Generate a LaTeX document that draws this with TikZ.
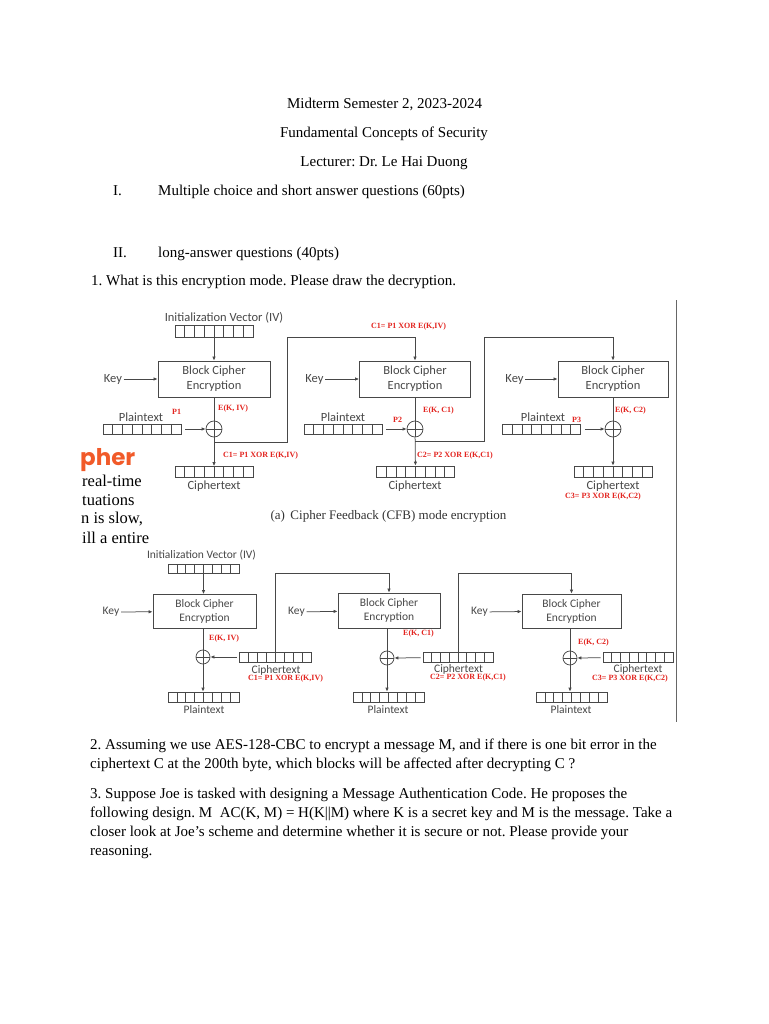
\documentclass[tikz,border=0pt]{standalone}
\usepackage{fontspec}
\setmainfont{Liberation Serif}
\newfontfamily\diagfont{Carlito}
\newfontfamily\popfont{Poppins}
\usetikzlibrary{arrows.meta,calc}
\definecolor{dg}{HTML}{484848}
\definecolor{lred}{HTML}{E3241F}
\definecolor{orng}{HTML}{F15A29}
\frenchspacing
\tikzset{
  txt/.style={font=\fontsize{15}{17}\selectfont, inner sep=0, anchor=west, yshift=-2pt},
  numt/.style={font=\fontsize{15}{17}\selectfont, inner sep=0, anchor=base west},
  ctxt/.style={font=\fontsize{15}{17}\selectfont, inner sep=0, yshift=-2pt},
  side/.style={font=\fontsize{16.5}{18}\selectfont, inner sep=0, anchor=west},
  lbl/.style={font=\diagfont\fontsize{12.5}{14}\selectfont, text=dg, inner sep=1.5pt},
  slbl/.style={font=\diagfont\fontsize{11.5}{13}\selectfont, text=dg, inner sep=1.5pt},
  blk/.style={draw=dg, line width=0.8pt, minimum width=112, minimum height=36, align=center,
    font=\diagfont\fontsize{12.5}{15}\selectfont, text=dg, inner sep=0},
  sblk/.style={blk, minimum width=103, minimum height=34, font=\diagfont\fontsize{11.5}{14}\selectfont},
  reg/.style={draw=dg, line width=0.75pt, minimum width=78, minimum height=11, inner sep=0,
    path picture={\foreach \i in {1,...,7}{\draw[dg, line width=0.75pt]
      ($(path picture bounding box.south west)!\i/8!(path picture bounding box.south east)$) --
      ($(path picture bounding box.north west)!\i/8!(path picture bounding box.north east)$);}}},
  xor/.style={circle, draw=dg, line width=0.75pt, minimum size=16, inner sep=0,
    path picture={\draw[dg, line width=0.75pt] (path picture bounding box.north) -- (path picture bounding box.south);
      \draw[dg, line width=0.75pt] (path picture bounding box.west) -- (path picture bounding box.east);}},
  redl/.style={font=\bfseries\fontsize{8}{9}\selectfont, text=lred, inner sep=0, anchor=west},
  arr/.style={draw=dg, line width=0.75pt, -{Latex[length=4pt,width=3.5pt]}},
  ln/.style={draw=dg, line width=0.75pt}
}
\begin{document}
\begin{tikzpicture}[x=1pt,y=-1pt]
\useasboundingbox[fill=white] (0,0) rectangle (768,1024);

% ---------- header text ----------
\node[ctxt] (h1) at (384.5,102) {Midterm Semester 2, 2023-2024};
\node[ctxt] (h2) at (384,132) {Fundamental Concepts of Security};
\node[ctxt] (h3) at (384,161) {Lecturer: Dr. Le Hai Duong};
\node[txt] (s1) at (158,190) {Multiple choice and short answer questions (60pts)};
\node[numt] (s1n) at ($(s1.base west)+(-45,0)$) {I.};
\node[txt] (s2) at (158,252) {long-answer questions (40pts)};
\node[numt] (s2n) at ($(s2.base west)+(-45,0)$) {II.};
\node[txt] (q1) at (91,280) {1. What is this encryption mode. Please draw the decryption.};

% ---------- side fragment ----------
\node[anchor=west, inner sep=0, font=\popfont\bfseries\fontsize{23}{26}\selectfont, text=orng] (sp) at (80,460) {pher};
\node[side] (sa) at (82,481) {real-time};
\node[side] (sb) at (82,500) {tuations};
\node[side] (sc) at (81,519) {n is slow,};
\node[side] (sd) at (82,538) {ill a entire};

% ---------- top figure: CFB encryption ----------
\node[lbl] (ivlab) at (224,318) {Initialization Vector (IV)};
\node[reg, minimum height=12] (iv) at (214,331) {};
\node[blk] (b1) at (214,379) {Block Cipher\\Encryption};
\node[lbl] (k1) at (113,379) {Key};
\node[xor] (x1) at (214,429) {};
\node[lbl] (pl1) at (141,417) {Plaintext};
\node[reg, minimum height=10] (p1) at (142,429) {};
\node[reg] (c1) at (214,472) {};
\node[lbl] (ct1) at (214,486) {Ciphertext};
\node[redl] (e1) at (218,409) {E(K, IV)};
\node[redl] (rp1) at (172,412) {P1};
\node[redl] (rc1) at (223,456) {C1= P1 XOR E(K,IV)};
\node[redl] (rc1b) at (371,327) {C1= P1 XOR E(K,IV)};
\coordinate (f1) at (214,442);
\coordinate (t1) at (287,337);

\node[blk, minimum width=111] (b2) at (415,379) {Block Cipher\\Encryption};
\node[lbl] (k2) at (314.5,379) {Key};
\node[xor] (x2) at (415,429) {};
\node[lbl] (pl2) at (343,417) {Plaintext};
\node[reg, minimum height=10] (p2) at (343,429) {};
\node[reg] (c2) at (415.5,471.5) {};
\node[lbl] (ct2) at (415,486) {Ciphertext};
\node[redl] (e2) at (423,411) {E(K, C1)};
\node[redl] (rp2) at (393,420) {P2};
\node[redl] (rc2) at (417,456) {C2= P2 XOR E(K,C1)};
\coordinate (f2) at (415,441);
\coordinate (t2) at (484,337);

\node[blk, minimum width=110] (b3) at (613,379) {Block Cipher\\Encryption};
\node[lbl] (k3) at (514.5,379) {Key};
\node[xor] (x3) at (613,429) {};
\node[lbl] (pl3) at (543,417) {Plaintext};
\node[reg, minimum height=10] (p3) at (541.5,429) {};
\node[reg] (c3) at (613,471.5) {};
\node[lbl] (ct3) at (613,486) {Ciphertext};
\node[redl] (e3) at (615,411) {E(K, C2)};
\node[redl] (rp3) at (572,420) {P3};
\node[redl] (rc3) at (565,497) {C3= P3 XOR E(K,C2)};

\draw[arr] (iv) -- (b1);
\draw[arr] (k1) -- (b1);
\draw[ln] (b1) -- (x1);
\draw[arr, shorten <=4pt] (p1) -- (x1);
\draw[arr] (x1) -- (c1);
\draw[arr] (f1) -| (t1) -| (b2.north);

\draw[arr] (k2) -- (b2);
\draw[ln] (b2) -- (x2);
\draw[arr, shorten <=4pt] (p2) -- (x2);
\draw[arr] (x2) -- (c2);
\draw[arr] (f2) -| (t2) -| (b3.north);

\draw[arr] (k3) -- (b3);
\draw[ln] (b3) -- (x3);
\draw[arr, shorten <=4pt] (p3) -- (x3);
\draw[arr] (x3) -- (c3);

\node[inner sep=0, font=\fontsize{13}{15}\selectfont, text=black!80] (cap) at (388.5,516) {(a)\, Cipher Feedback (CFB) mode encryption};

% ---------- bottom figure: CFB decryption ----------
\node[slbl] (divlab) at (201.5,555) {Initialization Vector (IV)};
\node[reg, minimum width=71, minimum height=9] (div) at (203.5,568.5) {};
\node[sblk] (db1) at (204.5,611.5) {Block Cipher\\Encryption};
\node[slbl] (dk1) at (111,612) {Key};
\node[xor, minimum size=14] (dx1) at (203,657) {};
\node[reg, minimum width=72, minimum height=10] (dc1) at (275,657) {};
\node[slbl] (dct1) at (276,670) {Ciphertext};
\node[reg, minimum width=71, minimum height=10] (dp1) at (203.5,697) {};
\node[slbl] (dpl1) at (204,710) {Plaintext};
\node[redl] (de1) at (209,639) {E(K, IV)};
\node[redl] (drc1) at (248,679) {C1= P1 XOR E(K,IV)};
\coordinate (u1) at (275,573);

\node[sblk, minimum width=102, minimum height=35] (db2) at (389,610.5) {Block Cipher\\Encryption};
\node[slbl] (dk2) at (296.5,612) {Key};
\node[xor, minimum size=14] (dx2) at (387,658) {};
\node[reg, minimum width=70, minimum height=10] (dc2) at (458,657.5) {};
\node[slbl] (dct2) at (458.5,669) {Ciphertext};
\node[reg, minimum width=71, minimum height=10] (dp2) at (388.5,697) {};
\node[slbl] (dpl2) at (388,710) {Plaintext};
\node[redl] (de2) at (403,634) {E(K, C1)};
\node[redl] (drc2) at (430,678) {C2= P2 XOR E(K,C1)};
\coordinate (u2) at (458,573);

\node[sblk, minimum width=99] (db3) at (571.5,611) {Block Cipher\\Encryption};
\node[slbl] (dk3) at (479.5,612) {Key};
\node[xor, minimum size=14] (dx3) at (570,658) {};
\node[reg, minimum width=70, minimum height=10] (dc3) at (638,657.5) {};
\node[slbl] (dct3) at (638,669) {Ciphertext};
\node[reg, minimum width=71, minimum height=10] (dp3) at (571.5,697) {};
\node[slbl] (dpl3) at (571,710) {Plaintext};
\node[redl] (de3) at (578,643) {E(K, C2)};
\node[redl] (drc3) at (592,679) {C3= P3 XOR E(K,C2)};

\draw[arr] (div) -- (div |- db1.north);
\draw[arr] (dk1) -- (db1);
\draw[ln] (dx1 |- db1.south) -- (dx1);
\draw[arr, shorten <=2pt] (dc1) -- (dx1);
\draw[arr] (dx1) -- (dx1 |- dp1.north);
\draw[arr] (u1 |- dc1.north) -- (u1) -| (db2.north);

\draw[arr] (dk2) -- (db2);
\draw[ln] (dx2 |- db2.south) -- (dx2);
\draw[arr, shorten <=2pt] (dc2) -- (dx2);
\draw[arr] (dx2) -- (dx2 |- dp2.north);
\draw[arr] (u2 |- dc2.north) -- (u2) -| (db3.north);

\draw[arr] (dk3) -- (db3);
\draw[ln] (dx3 |- db3.south) -- (dx3);
\draw[arr, shorten <=2pt] (dc3) -- (dx3);
\draw[arr] (dx3) -- (dx3 |- dp3.north);

% right border of the figure
\draw[draw=black!60, line width=1pt] (676,300) -- (676,722);

% ---------- questions ----------
\node[txt] (q2a) at (90,744) {2. Assuming we use AES-128-CBC to encrypt a message M, and if there is one bit error in the};
\node[txt] (q2b) at (90,763) {ciphertext C at the 200th byte, which blocks will be affected after decrypting C ?};
\node[txt] (q3a) at (90,793) {3. Suppose Joe is tasked with designing a Message Authentication Code. He proposes the};
\node[txt] (q3b) at (90,812) {following design. M\ \ AC(K, M) = H(K||M) where K is a secret key and M is the message. Take a};
\node[txt] (q3c) at (90,831) {closer look at Joe’s scheme and determine whether it is secure or not. Please provide your};
\node[txt] (q3d) at (90,850) {reasoning.};
\end{tikzpicture}
\end{document}
